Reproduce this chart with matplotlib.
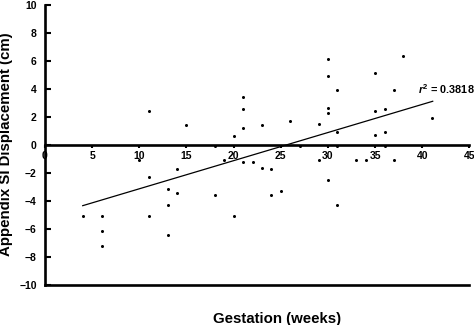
import matplotlib
matplotlib.use("Agg")
import matplotlib.pyplot as plt
import numpy as np

plt.rcParams['font.family'] = ['Liberation Sans', 'DejaVu Sans']
plt.rcParams['font.weight'] = 'bold'
plt.rcParams['mathtext.fontset'] = 'custom'
plt.rcParams['mathtext.rm'] = 'Liberation Sans:bold'
plt.rcParams['mathtext.it'] = 'Liberation Sans:bold:italic'
plt.rcParams['mathtext.bf'] = 'Liberation Sans:bold'

# gestation (weeks) vs appendix SI displacement (cm)
gestation = [4, 6, 6, 6, 10, 11, 11, 11, 13, 13, 13, 14, 14, 15, 18, 18,
             19, 20, 20, 21, 21, 21, 21, 22, 23, 23, 24, 24, 25, 26, 27,
             29, 29, 30, 30, 30, 30, 30, 31, 31, 31, 31, 33, 34, 35, 35,
             35, 36, 36, 36, 37, 37, 38, 41]
displacement = [-5.1, -5.1, -6.13, -7.23, -1.06, 2.41, -2.32, -5.1, -3.13,
                -4.3, -6.42, -1.7, -3.42, 1.41, -0.1, -3.6, -1.1, 0.62, -5.1,
                3.39, 2.58, 1.2, -1.23, -1.23, 1.39, -1.63, -1.72, -3.61,
                -3.3, 1.73, -0.1, 1.49, -1.1, 6.1, 4.89, 2.61, 2.3, -2.51,
                3.91, 0.91, -0.1, -4.3, -1.1, -1.1, 5.13, 2.41, 0.68, 2.54,
                0.91, -0.1, 3.91, -1.1, 6.34, 1.92]

# regression line end points
fit_x = [4, 41.1]
fit_y = [-4.34, 3.11]
r2_text = r"$\mathit{r}^{2}$ = 0.3818"

xticks = np.arange(0, 46, 5)
yticks = np.arange(-10, 11, 2)

fig = plt.figure(figsize=(4.74, 3.25), dpi=100)
ax = fig.add_axes([0.0949, 0.1231, 0.8956, 0.8624])

ax.plot(fit_x, fit_y, color='black', lw=0.9)
ax.plot(gestation, displacement, 'o', color='black', ms=2.2, mew=0)

ax.set_xlim(0, 45)
ax.set_ylim(-10, 10)

# x axis crosses at zero, plus a plain line at the bottom
ax.spines['bottom'].set_position(('data', 0))
ax.spines['bottom'].set_linewidth(1.9)
ax.spines['left'].set_linewidth(1.9)
ax.spines['top'].set_visible(False)
ax.spines['right'].set_visible(False)
ax.axhline(-10, color='black', lw=1.9, clip_on=False)

ax.set_xticks(xticks)
ax.set_yticks(yticks)
ax.tick_params(axis='x', direction='out', length=2.5, width=1.5, pad=2, labelsize=7.5)
ax.tick_params(axis='y', direction='in', length=4, width=1.5, pad=6, labelsize=7.5)
for lab in ax.get_xticklabels() + ax.get_yticklabels():
    lab.set_fontweight('bold')

ax.text(39.5, 3.96, r2_text, fontsize=7.8, fontweight='bold', va='center',
        ha='left')

ax.set_xlabel('Gestation (weeks)', fontsize=10.8, fontweight='bold')
ax.xaxis.set_label_coords(0.547, -0.096)
ax.xaxis.label.set_va('top')
ax.set_ylabel('Appendix SI Displacement (cm)', fontsize=10.8, fontweight='bold')
ax.yaxis.set_label_coords(-0.075, 0.503)

fig.savefig('out.png', dpi=100)
